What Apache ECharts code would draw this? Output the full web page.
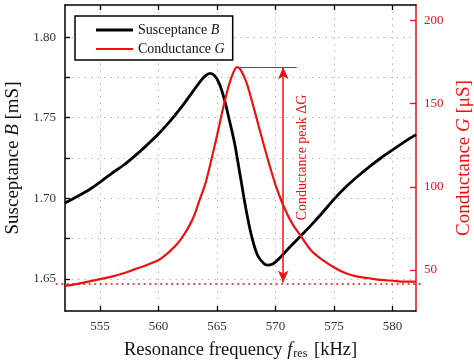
<!DOCTYPE html>
<html>
<head>
<meta charset="utf-8">
<script src="https://cdn.jsdelivr.net/npm/echarts@6/dist/echarts.min.js"></script>
<style>html,body{margin:0;padding:0;background:#fff}#c{width:474px;height:363px}</style>
</head>
<body>
<div id="c"></div>
<script>
// ---- data ----
var freqB = [552,553,554,555,556,557,558,559,560,561,562,563,563.5,564,564.4,564.8,565.2,565.6,566,566.5,567,567.5,568,568.5,569,569.3,569.7,570,570.5,571,572,573,574,575,576,577,578,579,580,581,582];
var susceptanceB = [1.697,1.701,1.705,1.710,1.7155,1.7205,1.7265,1.733,1.740,1.748,1.757,1.767,1.772,1.776,1.7775,1.776,1.771,1.762,1.750,1.734,1.713,1.692,1.675,1.664,1.6595,1.6585,1.659,1.6605,1.664,1.668,1.6755,1.683,1.691,1.6995,1.707,1.7135,1.7195,1.725,1.730,1.735,1.7395];
var freqG = [552,553,554,555,556,557,558,559,560,560.5,561,561.5,562,562.5,563,563.5,564,564.5,565,565.5,566,566.4,566.7,567,567.5,568,568.5,569,569.5,570,570.5,571,571.5,572,573,574,575,576,577,578,579,580,581,582];
var conductanceG = [40.5,41.5,43,44.5,46,48,50.5,53,56,58.5,61.5,65,69.5,75,82,92,102,116,131,147,161,169,172,170.5,163,151,138,125,112.5,101,91.5,83.5,77,72,62,56,51.5,48,46,45,44,43.5,43,43];
var xTicks = [555,560,565,570,575,580];
var bTicks = [1.65,1.675,1.70,1.725,1.75,1.775,1.80];
var bLabels = [1.65,1.70,1.75,1.80];
var gTicks = [50,100,150,200];
var gBaseline = 41.5;
var peakF = 566.7, peakG = 172, arrowF = 570.65, arrowBottomG = 42.5, peakLineEndF = 571.8;
var annotF = 572.3, annotG = 117.7;

var RED = '#ee1111';
var FONT = 'Liberation Serif';

function pairs(xs, ys){ return xs.map(function(x,i){ return [x, ys[i]]; }); }

var chart = echarts.init(document.getElementById('c'), null, {renderer:'canvas'});
var option = {
  animation: false,
  backgroundColor: '#fff',
  textStyle: {fontFamily: FONT},
  grid: {left: 65, right: 58, top: 5, bottom: 52, containLabel: false, outerBoundsMode: 'none'},
  legend: {
    orient: 'vertical', left: 75, top: 16, z: 20,
    padding: [7, 8, 4, 21], itemGap: 5,
    itemWidth: 37, itemHeight: 3, symbolKeepAspect: true,
    borderColor: '#000', borderWidth: 1.5, backgroundColor: '#fff',
    data: [
      {name: 'Susceptance B', icon: 'path://M0,0h37v3h-37z'},
      {name: 'Conductance G', icon: 'path://M0,0h37v2h-37z'}
    ],
    formatter: function(n){ var p = n.split(' '); return '{n|' + p[0] + ' }{i|' + p[1] + '}'; },
    textStyle: {fontFamily: FONT, fontSize: 14, color: '#111', lineHeight: 14,
      rich: {n: {fontFamily: FONT, fontSize: 14, color: '#111'}, i: {fontFamily: FONT, fontSize: 14, fontStyle: 'italic', color: '#111'}}}
  },
  xAxis: [{
    type: 'value', min: 552, max: 582, position: 'bottom',
    name: '{a|Resonance frequency }{f|f}{s|res}{a| [kHz]}',
    nameLocation: 'middle', nameGap: 30,
    nameTextStyle: {rich: {
      a: {fontFamily: FONT, fontSize: 18.5, color: '#111'},
      f: {fontFamily: FONT, fontSize: 18.5, fontStyle: 'italic', color: '#111'},
      s: {fontFamily: FONT, fontSize: 12, color: '#111', verticalAlign: 'bottom', padding: [0,2,0,1]}
    }},
    axisLine: {show: true, lineStyle: {color: '#000', width: 1.5}},
    axisTick: {show: true, inside: true, length: 5, customValues: xTicks, lineStyle: {color: '#000', width: 1.3}},
    axisLabel: {customValues: xTicks, fontFamily: FONT, fontSize: 13, color: '#333', margin: 9},
    splitLine: {show: true, lineStyle: {color: '#b5b5b5', width: 1, type: [1.5, 5]}}
  }, {
    type: 'value', min: 552, max: 582, position: 'top',
    axisLine: {show: true, onZero: false, lineStyle: {color: '#000', width: 1.5}},
    axisTick: {show: true, inside: true, length: 5, customValues: xTicks, lineStyle: {color: '#000', width: 1.3}},
    axisLabel: {show: false},
    splitLine: {show: false}
  }],
  yAxis: [{
    type: 'value', min: 1.63, max: 1.82, position: 'left',
    name: '{a|Susceptance }{i|B}{a| [mS]}',
    nameLocation: 'middle', nameRotate: 90, nameGap: 37,
    nameTextStyle: {rich: {
      a: {fontFamily: FONT, fontSize: 19, color: '#111'},
      i: {fontFamily: FONT, fontSize: 19, fontStyle: 'italic', color: '#111'}
    }},
    axisLine: {show: true, onZero: false, lineStyle: {color: '#000', width: 1.5}},
    axisTick: {show: true, inside: true, length: 5, customValues: bTicks, lineStyle: {color: '#000', width: 1.3}},
    axisLabel: {customValues: bLabels, fontFamily: FONT, fontSize: 13, color: '#333', margin: 9,
      formatter: function(v){ return v.toFixed(2); }},
    splitLine: {show: true, lineStyle: {color: '#b5b5b5', width: 1, type: [1.5, 5]}}
  }, {
    type: 'value', min: 25.3, max: 209.4, position: 'right',
    name: '{a|Conductance }{i|G}{a| [μS]}',
    nameLocation: 'middle', nameRotate: 90, nameGap: 35,
    nameTextStyle: {rich: {
      a: {fontFamily: FONT, fontSize: 19, color: RED},
      i: {fontFamily: FONT, fontSize: 19, fontStyle: 'italic', color: RED}
    }},
    axisLine: {show: true, onZero: false, lineStyle: {color: RED, width: 1.5}},
    axisTick: {show: true, inside: true, length: 6, customValues: gTicks, lineStyle: {color: RED, width: 1.3}},
    axisLabel: {customValues: gTicks, fontFamily: FONT, fontSize: 13, color: RED, margin: 8},
    splitLine: {show: false}
  }],
  series: [{
    name: 'Susceptance B', type: 'line', xAxisIndex: 0, yAxisIndex: 0,
    data: pairs(freqB, susceptanceB), symbol: 'none', smooth: 0.3,
    lineStyle: {color: '#000', width: 2.8}, itemStyle: {color: '#000'}
  }, {
    name: 'Conductance G', type: 'line', xAxisIndex: 0, yAxisIndex: 1,
    data: pairs(freqG, conductanceG), symbol: 'none', smooth: 0.3,
    lineStyle: {color: RED, width: 2.2}, itemStyle: {color: RED},
    markLine: {
      silent: true, animation: false, label: {show: false},
      symbol: ['arrow', 'arrow'], symbolSize: [8, 12],
      lineStyle: {color: RED, width: 1.5, type: 'solid'},
      data: [
        [{coord: [arrowF, peakG]}, {coord: [arrowF, arrowBottomG]}],
        [{coord: [peakF, peakG], symbol: 'none', lineStyle: {width: 1}}, {coord: [peakLineEndF, peakG], symbol: 'none'}]
      ]
    },
    markPoint: {
      silent: true, animation: false,
      data: [{coord: [annotF, annotG], symbol: 'circle', symbolSize: 1, itemStyle: {color: 'rgba(0,0,0,0)'},
        label: {show: true, position: 'inside', rotate: 90, formatter: 'Conductance peak ΔG',
          color: RED, fontFamily: FONT, fontSize: 14}}]
    }
  }]
};
chart.setOption(option);
var p1 = chart.convertToPixel({seriesIndex: 1}, [551.2, gBaseline]);
var p2 = chart.convertToPixel({seriesIndex: 1}, [582.5, gBaseline]);
chart.setOption({graphic: [{type: 'line', z: 100, silent: true,
  shape: {x1: p1[0], y1: p1[1], x2: p2[0], y2: p2[1]},
  style: {stroke: RED, lineWidth: 1.6, lineDash: [2, 3.5]}}]});
</script>
</body>
</html>
